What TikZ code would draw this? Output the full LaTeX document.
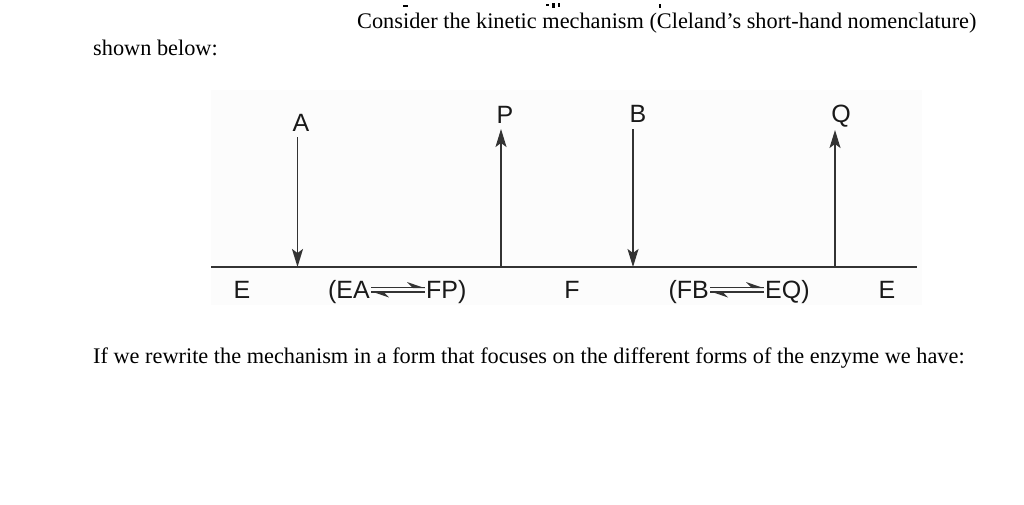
\documentclass[tikz,border=0pt]{standalone}
\usepackage{fontspec}
\setmainfont{Liberation Serif}
\setsansfont{Liberation Sans}
\usetikzlibrary{arrows.meta,calc}
\definecolor{ln}{HTML}{333333}
\definecolor{bgbox}{HTML}{FCFCFC}
\tikzset{
  serif/.style={font=\fontsize{22.3}{26}\selectfont, inner sep=0pt, text=black},
  lab/.style={font=\sffamily\fontsize{25}{29}\selectfont, inner sep=0pt, text=black!90},
  flow/.style={draw=ln, line width=1.5pt, -{Stealth[length=18pt,width=11pt,inset=4pt]}},
  base/.style={draw=ln, line width=1.5pt},
}
\begin{document}
\begin{tikzpicture}[x=1pt,y=-1pt]
\useasboundingbox (0,0) rectangle (1024,504);
\fill[white] (0,0) rectangle (1024,504);
% faint diagram background
\fill[bgbox] (211,90) rectangle (922,305);
% cut-off fragments at top
\fill[black] (403,5) rectangle (408,7);
\fill[black] (546,4) rectangle (549,6);
\fill[black] (552,3) rectangle (555,8);
\fill[black] (558,3) rectangle (560,7);
\fill[black] (659,4) rectangle (661,8);
% texts
\node[serif, anchor=base west] (t1) at (357,28) {Consider the kinetic mechanism (Cleland’s short-hand nomenclature)};
\node[serif, anchor=base west] (t2) at (93,55) {shown below:};
\node[serif, anchor=base west] (t3) at (93,363) {If we rewrite the mechanism in a form that focuses on the different forms of the enzyme we have:};
% baseline
\coordinate (L) at (211,267);
\coordinate (R) at (917,267);
\draw[base] (L) -- (R);
% labels top
\node[lab, anchor=base] (A) at (301,131) {A};
\node[lab, anchor=base] (P) at (505,123) {P};
\node[lab, anchor=base] (B) at (638,122) {B};
\node[lab, anchor=base] (Q) at (841,122) {Q};
% foot points on the line
\coordinate (fa) at (297.5,267);
\coordinate (ta) at (297.5,137);
\coordinate (fp) at (501,267);
\coordinate (tp) at (501,129);
\coordinate (fb) at (633,267);
\coordinate (tb) at (633,129);
\coordinate (fq) at (835,267);
\coordinate (tq) at (835,130);
\draw[flow] (ta) -- (fa);
\draw[flow] (fp) -- (tp);
\draw[flow] (tb) -- (fb);
\draw[flow] (fq) -- (tq);
% bottom labels
\node[lab, anchor=base] (E1) at (242,298) {E};
\node[lab, anchor=base east] (EA) at (370,298) {(EA};
\node[lab, anchor=base west] (FP) at (426,298) {FP)};
\node[lab, anchor=base] (F) at (572,298) {F};
\node[lab, anchor=base east] (FB) at (709,298) {(FB};
\node[lab, anchor=base west] (EQ) at (765,298) {EQ)};
\node[lab, anchor=base] (E2) at (887,298) {E};
% equilibrium harpoons
\foreach \l/\r in {EA/FP, FB/EQ}{
  \draw[ln, line width=1.4pt] ($(\l.base east)+(1,-10.5)$) -- ($(\r.base west)+(-1,-10.5)$);
  \fill[ln] ($(\r.base west)+(-1,-9.8)$) -- ($(\r.base west)+(-19,-16)$) -- ($(\r.base west)+(-13,-9.8)$) -- cycle;
  \draw[ln, line width=1.4pt] ($(\l.base east)+(1,-6)$) -- ($(\r.base west)+(-1,-6)$);
  \fill[ln] ($(\l.base east)+(1,-6.7)$) -- ($(\l.base east)+(19,-0.5)$) -- ($(\l.base east)+(13,-6.7)$) -- cycle;
}
\end{tikzpicture}
\end{document}
